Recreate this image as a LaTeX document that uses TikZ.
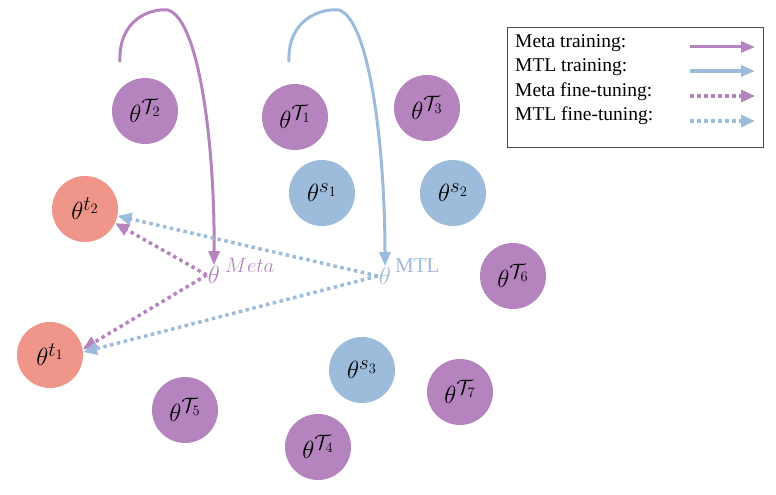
\documentclass[tikz,border=0pt]{standalone}
\usepackage{fontspec}
\setmainfont{Liberation Serif}
\usetikzlibrary{arrows.meta}
\definecolor{pur}{HTML}{B584BE}
\definecolor{blu}{HTML}{9DBBDB}
\definecolor{red}{HTML}{F0958A}
\begin{document}
\begin{tikzpicture}[x=1pt,y=-1pt,
  ball/.style={circle,minimum size=66pt,inner sep=0pt,font=\fontsize{28}{30}\selectfont},
  pb/.style={ball,fill=pur},
  bb/.style={ball,fill=blu},
  rb/.style={ball,fill=red},
  train/.style={line width=3pt,-{Triangle[length=14pt,width=11pt]}},
  tune/.style={line width=3.5pt,dash pattern=on 3.5pt off 3.5pt,-{Triangle[length=14pt,width=12pt]}}]
\useasboundingbox (0,0) rectangle (776,495);
\node[pb] (T2) at (145,111) {$\theta^{\mathcal{T}_2}$};
\node[pb] (T1) at (295,117) {$\theta^{\mathcal{T}_1}$};
\node[pb] (T3) at (427,108) {$\theta^{\mathcal{T}_3}$};
\node[bb] (s1) at (322,193) {$\theta^{s_1}$};
\node[bb] (s2) at (453,193) {$\theta^{s_2}$};
\node[rb] (t2) at (85,209) {$\theta^{t_2}$};
\node[rb] (t1) at (50,355) {$\theta^{t_1}$};
\node[pb] (T6) at (513,276) {$\theta^{\mathcal{T}_6}$};
\node[bb] (s3) at (362,370) {$\theta^{s_3}$};
\node[pb] (T7) at (460,392) {$\theta^{\mathcal{T}_7}$};
\node[pb] (T5) at (185,410) {$\theta^{\mathcal{T}_5}$};
\node[pb] (T4) at (318,447) {$\theta^{\mathcal{T}_4}$};
\node[text=pur,font=\fontsize{30}{30}\selectfont,inner sep=1pt] (meta) at (214,275) {$\theta$};
\node[text=pur,font=\fontsize{21}{21}\selectfont,anchor=west,inner sep=0pt] at (225,265) {$Meta$};
\node[text=blu,font=\fontsize{30}{30}\selectfont,inner sep=1pt] (mtl) at (385,276) {$\theta$};
\node[text=blu,font=\fontsize{21}{21}\selectfont,anchor=west,inner sep=0pt] at (395,266) {MTL};
\coordinate (ma) at (120,62);
\coordinate (ba) at (289,62);
\draw[train,pur] (ma) .. controls (118,20) and (150,8) .. (168,10) .. controls (200,20) and (215,150) .. (meta.north);
\draw[train,blu] (ba) .. controls (287,20) and (320,8) .. (339,10) .. controls (370,20) and (385,150) .. (mtl.north);
\draw[tune,pur] (meta.west) -- (t2.-25);
\draw[tune,pur] (meta.west) -- (t1.10);
\draw[tune,blu] (mtl.west) -- (t2.-12);
\draw[tune,blu] (mtl.west) -- (t1.5);
\node[draw=black!70,line width=1.2pt,minimum width=256pt,minimum height=120pt,anchor=north west] (leg) at (507,27) {};
\node[font=\fontsize{19.5}{24.5}\selectfont,anchor=north west,align=left,inner sep=0pt] (lt) at (515,34) {Meta training:\\MTL training:\\Meta fine-tuning:\\MTL fine-tuning:};
\coordinate (a1) at (690,47); \coordinate (b1) at (755,47);
\coordinate (a2) at (690,71); \coordinate (b2) at (755,71);
\coordinate (a3) at (690,96); \coordinate (b3) at (755,96);
\coordinate (a4) at (690,121); \coordinate (b4) at (755,121);
\draw[train,pur] (a1) -- (b1);
\draw[train,blu] (a2) -- (b2);
\draw[tune,pur] (a3) -- (b3);
\draw[tune,blu] (a4) -- (b4);
\end{tikzpicture}
\end{document}
